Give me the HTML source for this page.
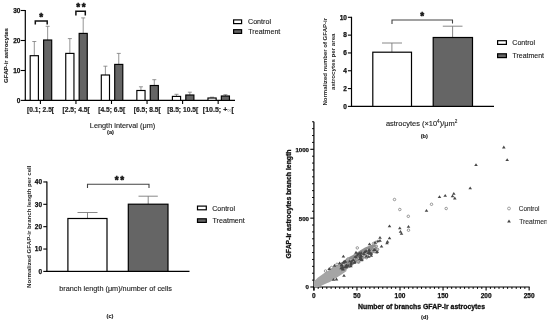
<!DOCTYPE html>
<html><head><meta charset="utf-8"><style>
html,body{margin:0;padding:0;background:#fff;width:550px;height:322px;overflow:hidden}
svg{display:block}
</style></head><body>
<svg id="fig" width="550" height="322" viewBox="0 0 550 322" font-family="Liberation Sans, Arial, sans-serif">
<rect width="550" height="322" fill="#fff"/>
<line x1="25.30" y1="9.90" x2="25.30" y2="101.00" stroke="#000" stroke-width="1.2" stroke-linecap="butt"/>
<line x1="24.70" y1="100.40" x2="235.00" y2="100.40" stroke="#000" stroke-width="1.2" stroke-linecap="butt"/>
<line x1="20.80" y1="10.50" x2="25.30" y2="10.50" stroke="#000" stroke-width="1.1" stroke-linecap="butt"/>
<text x="20.40" y="12.85" font-size="6.5" text-anchor="end" fill="#111" stroke="#111" stroke-width="0.25" font-weight="bold" >30</text>
<line x1="20.80" y1="40.50" x2="25.30" y2="40.50" stroke="#000" stroke-width="1.1" stroke-linecap="butt"/>
<text x="20.40" y="42.85" font-size="6.5" text-anchor="end" fill="#111" stroke="#111" stroke-width="0.25" font-weight="bold" >20</text>
<line x1="20.80" y1="70.50" x2="25.30" y2="70.50" stroke="#000" stroke-width="1.1" stroke-linecap="butt"/>
<text x="20.40" y="72.85" font-size="6.5" text-anchor="end" fill="#111" stroke="#111" stroke-width="0.25" font-weight="bold" >10</text>
<line x1="20.80" y1="100.40" x2="25.30" y2="100.40" stroke="#000" stroke-width="1.1" stroke-linecap="butt"/>
<text x="20.40" y="102.75" font-size="6.5" text-anchor="end" fill="#111" stroke="#111" stroke-width="0.25" font-weight="bold" >0</text>
<line x1="40.40" y1="100.40" x2="40.40" y2="104.00" stroke="#000" stroke-width="1.1" stroke-linecap="butt"/>
<line x1="34.30" y1="55.70" x2="34.30" y2="41.50" stroke="#7a7a7a" stroke-width="0.8" stroke-linecap="butt"/>
<line x1="32.30" y1="41.50" x2="36.30" y2="41.50" stroke="#7a7a7a" stroke-width="0.8" stroke-linecap="butt"/>
<line x1="47.65" y1="40.00" x2="47.65" y2="26.30" stroke="#7a7a7a" stroke-width="0.8" stroke-linecap="butt"/>
<line x1="45.65" y1="26.30" x2="49.65" y2="26.30" stroke="#7a7a7a" stroke-width="0.8" stroke-linecap="butt"/>
<rect x="30.20" y="55.70" width="8.20" height="44.70" fill="#fff" stroke="#000" stroke-width="1.15"/>
<rect x="43.60" y="40.00" width="8.10" height="60.40" fill="#656565" stroke="#000" stroke-width="1.15"/>
<line x1="75.95" y1="100.40" x2="75.95" y2="104.00" stroke="#000" stroke-width="1.1" stroke-linecap="butt"/>
<line x1="69.85" y1="53.40" x2="69.85" y2="38.60" stroke="#7a7a7a" stroke-width="0.8" stroke-linecap="butt"/>
<line x1="67.85" y1="38.60" x2="71.85" y2="38.60" stroke="#7a7a7a" stroke-width="0.8" stroke-linecap="butt"/>
<line x1="83.20" y1="33.40" x2="83.20" y2="17.90" stroke="#7a7a7a" stroke-width="0.8" stroke-linecap="butt"/>
<line x1="81.20" y1="17.90" x2="85.20" y2="17.90" stroke="#7a7a7a" stroke-width="0.8" stroke-linecap="butt"/>
<rect x="65.75" y="53.40" width="8.20" height="47.00" fill="#fff" stroke="#000" stroke-width="1.15"/>
<rect x="79.15" y="33.40" width="8.10" height="67.00" fill="#656565" stroke="#000" stroke-width="1.15"/>
<line x1="111.50" y1="100.40" x2="111.50" y2="104.00" stroke="#000" stroke-width="1.1" stroke-linecap="butt"/>
<line x1="105.40" y1="75.00" x2="105.40" y2="66.20" stroke="#7a7a7a" stroke-width="0.8" stroke-linecap="butt"/>
<line x1="103.40" y1="66.20" x2="107.40" y2="66.20" stroke="#7a7a7a" stroke-width="0.8" stroke-linecap="butt"/>
<line x1="118.75" y1="64.40" x2="118.75" y2="53.40" stroke="#7a7a7a" stroke-width="0.8" stroke-linecap="butt"/>
<line x1="116.75" y1="53.40" x2="120.75" y2="53.40" stroke="#7a7a7a" stroke-width="0.8" stroke-linecap="butt"/>
<rect x="101.30" y="75.00" width="8.20" height="25.40" fill="#fff" stroke="#000" stroke-width="1.15"/>
<rect x="114.70" y="64.40" width="8.10" height="36.00" fill="#656565" stroke="#000" stroke-width="1.15"/>
<line x1="147.05" y1="100.40" x2="147.05" y2="104.00" stroke="#000" stroke-width="1.1" stroke-linecap="butt"/>
<line x1="140.95" y1="90.50" x2="140.95" y2="86.80" stroke="#7a7a7a" stroke-width="0.8" stroke-linecap="butt"/>
<line x1="138.95" y1="86.80" x2="142.95" y2="86.80" stroke="#7a7a7a" stroke-width="0.8" stroke-linecap="butt"/>
<line x1="154.30" y1="85.50" x2="154.30" y2="79.70" stroke="#7a7a7a" stroke-width="0.8" stroke-linecap="butt"/>
<line x1="152.30" y1="79.70" x2="156.30" y2="79.70" stroke="#7a7a7a" stroke-width="0.8" stroke-linecap="butt"/>
<rect x="136.85" y="90.50" width="8.20" height="9.90" fill="#fff" stroke="#000" stroke-width="1.15"/>
<rect x="150.25" y="85.50" width="8.10" height="14.90" fill="#656565" stroke="#000" stroke-width="1.15"/>
<line x1="182.60" y1="100.40" x2="182.60" y2="104.00" stroke="#000" stroke-width="1.1" stroke-linecap="butt"/>
<line x1="176.50" y1="96.40" x2="176.50" y2="94.30" stroke="#7a7a7a" stroke-width="0.8" stroke-linecap="butt"/>
<line x1="174.50" y1="94.30" x2="178.50" y2="94.30" stroke="#7a7a7a" stroke-width="0.8" stroke-linecap="butt"/>
<line x1="189.85" y1="95.00" x2="189.85" y2="92.20" stroke="#7a7a7a" stroke-width="0.8" stroke-linecap="butt"/>
<line x1="187.85" y1="92.20" x2="191.85" y2="92.20" stroke="#7a7a7a" stroke-width="0.8" stroke-linecap="butt"/>
<rect x="172.40" y="96.40" width="8.20" height="4.00" fill="#fff" stroke="#000" stroke-width="1.15"/>
<rect x="185.80" y="95.00" width="8.10" height="5.40" fill="#656565" stroke="#000" stroke-width="1.15"/>
<line x1="218.15" y1="100.40" x2="218.15" y2="104.00" stroke="#000" stroke-width="1.1" stroke-linecap="butt"/>
<line x1="210.05" y1="97.20" x2="214.05" y2="97.20" stroke="#7a7a7a" stroke-width="0.8" stroke-linecap="butt"/>
<line x1="225.40" y1="96.00" x2="225.40" y2="94.70" stroke="#7a7a7a" stroke-width="0.8" stroke-linecap="butt"/>
<line x1="223.40" y1="94.70" x2="227.40" y2="94.70" stroke="#7a7a7a" stroke-width="0.8" stroke-linecap="butt"/>
<rect x="207.95" y="98.00" width="8.20" height="2.40" fill="#fff" stroke="#000" stroke-width="1.15"/>
<rect x="221.35" y="96.00" width="8.10" height="4.40" fill="#656565" stroke="#000" stroke-width="1.15"/>
<text x="40.60" y="111.60" font-size="6.6" text-anchor="middle" fill="#222" stroke="#222" stroke-width="0.2" font-weight="bold" textLength="27" lengthAdjust="spacingAndGlyphs" >[0.1; 2.5[</text>
<text x="76.15" y="111.60" font-size="6.6" text-anchor="middle" fill="#222" stroke="#222" stroke-width="0.2" font-weight="bold" textLength="27.4" lengthAdjust="spacingAndGlyphs" >[2.5; 4.5[</text>
<text x="111.70" y="111.60" font-size="6.6" text-anchor="middle" fill="#222" stroke="#222" stroke-width="0.2" font-weight="bold" textLength="27" lengthAdjust="spacingAndGlyphs" >[4.5; 6.5[</text>
<text x="147.25" y="111.60" font-size="6.6" text-anchor="middle" fill="#222" stroke="#222" stroke-width="0.2" font-weight="bold" textLength="27" lengthAdjust="spacingAndGlyphs" >[6.5; 8.5[</text>
<text x="182.80" y="111.60" font-size="6.6" text-anchor="middle" fill="#222" stroke="#222" stroke-width="0.2" font-weight="bold" textLength="31" lengthAdjust="spacingAndGlyphs" >[8.5; 10.5[</text>
<text x="218.35" y="111.60" font-size="6.6" text-anchor="middle" fill="#222" stroke="#222" stroke-width="0.2" font-weight="bold" textLength="31" lengthAdjust="spacingAndGlyphs" >[10.5; +<tspan font-weight="normal" fill="#8a8a8a" stroke="none" font-size="5.6">∞</tspan>[</text>
<path d="M35.3 24.6 V21 H47.2 V24.6" fill="none" stroke="#111" stroke-width="1.5"/>
<path d="M75.9 15.6 V11.2 H85.3 V15.6" fill="none" stroke="#111" stroke-width="1.5"/>
<text x="41.30" y="20.75" font-size="10" text-anchor="middle" fill="#111" stroke="#111" stroke-width="0.5" font-weight="bold" >*</text>
<text x="78.20" y="10.75" font-size="10" text-anchor="middle" fill="#111" stroke="#111" stroke-width="0.5" font-weight="bold" >*</text>
<text x="83.70" y="10.75" font-size="10" text-anchor="middle" fill="#111" stroke="#111" stroke-width="0.5" font-weight="bold" >*</text>
<text x="89.80" y="127.80" font-size="7.3" text-anchor="start" fill="#222" stroke="#222" stroke-width="0.12" textLength="65.4" lengthAdjust="spacingAndGlyphs" >Length interval (μm)</text>
<text x="110.50" y="134.30" font-size="5.6" text-anchor="middle" fill="#222" stroke="#222" stroke-width="0.15" font-weight="bold" >(a)</text>
<text x="8.20" y="83.00" font-size="6.2" text-anchor="start" fill="#1a1a1a" stroke="#1a1a1a" stroke-width="0.1" font-weight="bold" textLength="55" lengthAdjust="spacingAndGlyphs" transform="rotate(-90 8.20 83.00)" >GFAP-ir astrocytes</text>
<rect x="233.60" y="19.90" width="8.00" height="3.70" fill="#fff" stroke="#000" stroke-width="1.2"/>
<rect x="233.60" y="29.70" width="8.00" height="3.70" fill="#656565" stroke="#000" stroke-width="1.2"/>
<text x="248.00" y="24.30" font-size="7" text-anchor="start" fill="#222" stroke="#222" stroke-width="0.12" textLength="23" lengthAdjust="spacingAndGlyphs" >Control</text>
<text x="248.30" y="34.00" font-size="7" text-anchor="start" fill="#222" stroke="#222" stroke-width="0.12" textLength="32" lengthAdjust="spacingAndGlyphs" >Treatment</text>
<line x1="351.50" y1="16.80" x2="351.50" y2="107.00" stroke="#000" stroke-width="1.2" stroke-linecap="butt"/>
<line x1="350.90" y1="106.40" x2="494.00" y2="106.40" stroke="#000" stroke-width="1.2" stroke-linecap="butt"/>
<line x1="347.90" y1="106.40" x2="351.50" y2="106.40" stroke="#000" stroke-width="1.1" stroke-linecap="butt"/>
<text x="346.90" y="108.75" font-size="6.5" text-anchor="end" fill="#111" stroke="#111" stroke-width="0.25" font-weight="bold" >0</text>
<line x1="347.90" y1="88.58" x2="351.50" y2="88.58" stroke="#000" stroke-width="1.1" stroke-linecap="butt"/>
<text x="346.90" y="90.93" font-size="6.5" text-anchor="end" fill="#111" stroke="#111" stroke-width="0.25" font-weight="bold" >2</text>
<line x1="347.90" y1="70.76" x2="351.50" y2="70.76" stroke="#000" stroke-width="1.1" stroke-linecap="butt"/>
<text x="346.90" y="73.11" font-size="6.5" text-anchor="end" fill="#111" stroke="#111" stroke-width="0.25" font-weight="bold" >4</text>
<line x1="347.90" y1="52.94" x2="351.50" y2="52.94" stroke="#000" stroke-width="1.1" stroke-linecap="butt"/>
<text x="346.90" y="55.29" font-size="6.5" text-anchor="end" fill="#111" stroke="#111" stroke-width="0.25" font-weight="bold" >6</text>
<line x1="347.90" y1="35.12" x2="351.50" y2="35.12" stroke="#000" stroke-width="1.1" stroke-linecap="butt"/>
<text x="346.90" y="37.47" font-size="6.5" text-anchor="end" fill="#111" stroke="#111" stroke-width="0.25" font-weight="bold" >8</text>
<line x1="347.90" y1="17.30" x2="351.50" y2="17.30" stroke="#000" stroke-width="1.1" stroke-linecap="butt"/>
<text x="346.90" y="19.65" font-size="6.5" text-anchor="end" fill="#111" stroke="#111" stroke-width="0.25" font-weight="bold" >10</text>
<line x1="391.90" y1="52.20" x2="391.90" y2="43.00" stroke="#7a7a7a" stroke-width="0.9" stroke-linecap="butt"/>
<line x1="382.00" y1="43.00" x2="402.00" y2="43.00" stroke="#7a7a7a" stroke-width="0.9" stroke-linecap="butt"/>
<line x1="452.60" y1="37.50" x2="452.60" y2="26.20" stroke="#7a7a7a" stroke-width="0.9" stroke-linecap="butt"/>
<line x1="442.80" y1="26.20" x2="462.50" y2="26.20" stroke="#7a7a7a" stroke-width="0.9" stroke-linecap="butt"/>
<rect x="372.80" y="52.20" width="38.70" height="54.20" fill="#fff" stroke="#000" stroke-width="1.2"/>
<rect x="433.20" y="37.50" width="39.30" height="68.90" fill="#656565" stroke="#000" stroke-width="1.2"/>
<path d="M392 24 V20 H452.5 V23.6" fill="none" stroke="#444" stroke-width="1.1"/>
<text x="422.20" y="19.80" font-size="10" text-anchor="middle" fill="#111" stroke="#111" stroke-width="0.5" font-weight="bold" >*</text>
<text x="327.30" y="61.75" font-size="6.1" text-anchor="middle" fill="#222" font-weight="bold" textLength="87.5" lengthAdjust="spacingAndGlyphs" transform="rotate(-90 327.30 61.75)" >Normalized number of GFAP-ir</text>
<text x="335.30" y="61.75" font-size="6.1" text-anchor="middle" fill="#222" font-weight="bold" textLength="56.5" lengthAdjust="spacingAndGlyphs" transform="rotate(-90 335.30 61.75)" >astrocytes per area</text>
<text x="385.9" y="125.6" font-size="7.4" fill="#222" stroke="#222" stroke-width="0.12" textLength="71.5" lengthAdjust="spacingAndGlyphs">astrocytes (×10<tspan font-size="4.6" dy="-2.8">4</tspan><tspan dy="2.8">)/μm</tspan><tspan font-size="4.6" dy="-2.8">2</tspan></text>
<text x="424.30" y="138.00" font-size="5.6" text-anchor="middle" fill="#222" stroke="#222" stroke-width="0.15" font-weight="bold" >(b)</text>
<rect x="497.60" y="40.70" width="8.80" height="3.70" fill="#fff" stroke="#000" stroke-width="1.2"/>
<rect x="497.60" y="53.80" width="8.80" height="3.80" fill="#656565" stroke="#000" stroke-width="1.2"/>
<text x="512.30" y="45.30" font-size="7" text-anchor="start" fill="#222" stroke="#222" stroke-width="0.12" textLength="22.8" lengthAdjust="spacingAndGlyphs" >Control</text>
<text x="512.50" y="58.40" font-size="7" text-anchor="start" fill="#222" stroke="#222" stroke-width="0.12" textLength="31.5" lengthAdjust="spacingAndGlyphs" >Treatment</text>
<line x1="46.90" y1="181.60" x2="46.90" y2="272.00" stroke="#000" stroke-width="1.2" stroke-linecap="butt"/>
<line x1="46.30" y1="271.40" x2="189.50" y2="271.40" stroke="#000" stroke-width="1.2" stroke-linecap="butt"/>
<line x1="43.30" y1="271.40" x2="46.90" y2="271.40" stroke="#000" stroke-width="1.1" stroke-linecap="butt"/>
<text x="42.10" y="273.75" font-size="6.5" text-anchor="end" fill="#111" stroke="#111" stroke-width="0.25" font-weight="bold" >0</text>
<line x1="43.30" y1="249.04" x2="46.90" y2="249.04" stroke="#000" stroke-width="1.1" stroke-linecap="butt"/>
<text x="42.10" y="251.39" font-size="6.5" text-anchor="end" fill="#111" stroke="#111" stroke-width="0.25" font-weight="bold" >10</text>
<line x1="43.30" y1="226.68" x2="46.90" y2="226.68" stroke="#000" stroke-width="1.1" stroke-linecap="butt"/>
<text x="42.10" y="229.03" font-size="6.5" text-anchor="end" fill="#111" stroke="#111" stroke-width="0.25" font-weight="bold" >20</text>
<line x1="43.30" y1="204.32" x2="46.90" y2="204.32" stroke="#000" stroke-width="1.1" stroke-linecap="butt"/>
<text x="42.10" y="206.67" font-size="6.5" text-anchor="end" fill="#111" stroke="#111" stroke-width="0.25" font-weight="bold" >30</text>
<line x1="43.30" y1="181.96" x2="46.90" y2="181.96" stroke="#000" stroke-width="1.1" stroke-linecap="butt"/>
<text x="42.10" y="184.31" font-size="6.5" text-anchor="end" fill="#111" stroke="#111" stroke-width="0.25" font-weight="bold" >40</text>
<line x1="87.50" y1="218.50" x2="87.50" y2="212.50" stroke="#7a7a7a" stroke-width="0.9" stroke-linecap="butt"/>
<line x1="77.50" y1="212.50" x2="97.50" y2="212.50" stroke="#7a7a7a" stroke-width="0.9" stroke-linecap="butt"/>
<line x1="148.20" y1="204.20" x2="148.20" y2="196.20" stroke="#7a7a7a" stroke-width="0.9" stroke-linecap="butt"/>
<line x1="138.50" y1="196.20" x2="157.80" y2="196.20" stroke="#7a7a7a" stroke-width="0.9" stroke-linecap="butt"/>
<rect x="67.90" y="218.50" width="39.10" height="52.90" fill="#fff" stroke="#000" stroke-width="1.2"/>
<rect x="128.30" y="204.20" width="39.70" height="67.20" fill="#656565" stroke="#000" stroke-width="1.2"/>
<path d="M87.5 188 V184.2 H149 V188" fill="none" stroke="#444" stroke-width="1.1"/>
<text x="116.80" y="184.00" font-size="10" text-anchor="middle" fill="#111" stroke="#111" stroke-width="0.5" font-weight="bold" >*</text>
<text x="122.30" y="184.00" font-size="10" text-anchor="middle" fill="#111" stroke="#111" stroke-width="0.5" font-weight="bold" >*</text>
<text x="30.90" y="226.75" font-size="6.1" text-anchor="middle" fill="#222" font-weight="bold" textLength="122.5" lengthAdjust="spacingAndGlyphs" transform="rotate(-90 30.90 226.75)" >Normalized GFAP-ir branch length per cell</text>
<text x="59.30" y="291.10" font-size="7.3" text-anchor="start" fill="#222" stroke="#222" stroke-width="0.12" textLength="112.7" lengthAdjust="spacingAndGlyphs" >branch length (μm)/number of cells</text>
<text x="110.00" y="318.00" font-size="5.6" text-anchor="middle" fill="#222" stroke="#222" stroke-width="0.15" font-weight="bold" >(c)</text>
<rect x="197.50" y="206.10" width="8.80" height="3.70" fill="#fff" stroke="#000" stroke-width="1.2"/>
<rect x="197.50" y="218.80" width="8.80" height="3.60" fill="#656565" stroke="#000" stroke-width="1.2"/>
<text x="212.20" y="210.90" font-size="7" text-anchor="start" fill="#222" stroke="#222" stroke-width="0.12" textLength="22.8" lengthAdjust="spacingAndGlyphs" >Control</text>
<text x="212.50" y="223.40" font-size="7" text-anchor="start" fill="#222" stroke="#222" stroke-width="0.12" textLength="32.3" lengthAdjust="spacingAndGlyphs" >Treatment</text>
<line x1="313.90" y1="121.76" x2="313.90" y2="290.50" stroke="#000" stroke-width="1.2" stroke-linecap="butt"/>
<line x1="313.30" y1="287.00" x2="529.65" y2="287.00" stroke="#000" stroke-width="1.2" stroke-linecap="butt"/>
<line x1="310.30" y1="287.00" x2="313.90" y2="287.00" stroke="#000" stroke-width="1.1" stroke-linecap="butt"/>
<line x1="312.10" y1="280.12" x2="313.90" y2="280.12" stroke="#000" stroke-width="1.0" stroke-linecap="butt"/>
<line x1="312.10" y1="273.23" x2="313.90" y2="273.23" stroke="#000" stroke-width="1.0" stroke-linecap="butt"/>
<line x1="312.10" y1="266.35" x2="313.90" y2="266.35" stroke="#000" stroke-width="1.0" stroke-linecap="butt"/>
<line x1="312.10" y1="259.46" x2="313.90" y2="259.46" stroke="#000" stroke-width="1.0" stroke-linecap="butt"/>
<line x1="312.10" y1="252.57" x2="313.90" y2="252.57" stroke="#000" stroke-width="1.0" stroke-linecap="butt"/>
<line x1="312.10" y1="245.69" x2="313.90" y2="245.69" stroke="#000" stroke-width="1.0" stroke-linecap="butt"/>
<line x1="312.10" y1="238.81" x2="313.90" y2="238.81" stroke="#000" stroke-width="1.0" stroke-linecap="butt"/>
<line x1="312.10" y1="231.92" x2="313.90" y2="231.92" stroke="#000" stroke-width="1.0" stroke-linecap="butt"/>
<line x1="312.10" y1="225.03" x2="313.90" y2="225.03" stroke="#000" stroke-width="1.0" stroke-linecap="butt"/>
<line x1="310.30" y1="218.15" x2="313.90" y2="218.15" stroke="#000" stroke-width="1.1" stroke-linecap="butt"/>
<line x1="312.10" y1="211.26" x2="313.90" y2="211.26" stroke="#000" stroke-width="1.0" stroke-linecap="butt"/>
<line x1="312.10" y1="204.38" x2="313.90" y2="204.38" stroke="#000" stroke-width="1.0" stroke-linecap="butt"/>
<line x1="312.10" y1="197.50" x2="313.90" y2="197.50" stroke="#000" stroke-width="1.0" stroke-linecap="butt"/>
<line x1="312.10" y1="190.61" x2="313.90" y2="190.61" stroke="#000" stroke-width="1.0" stroke-linecap="butt"/>
<line x1="312.10" y1="183.73" x2="313.90" y2="183.73" stroke="#000" stroke-width="1.0" stroke-linecap="butt"/>
<line x1="312.10" y1="176.84" x2="313.90" y2="176.84" stroke="#000" stroke-width="1.0" stroke-linecap="butt"/>
<line x1="312.10" y1="169.96" x2="313.90" y2="169.96" stroke="#000" stroke-width="1.0" stroke-linecap="butt"/>
<line x1="312.10" y1="163.07" x2="313.90" y2="163.07" stroke="#000" stroke-width="1.0" stroke-linecap="butt"/>
<line x1="312.10" y1="156.19" x2="313.90" y2="156.19" stroke="#000" stroke-width="1.0" stroke-linecap="butt"/>
<line x1="310.30" y1="149.30" x2="313.90" y2="149.30" stroke="#000" stroke-width="1.1" stroke-linecap="butt"/>
<line x1="312.10" y1="142.42" x2="313.90" y2="142.42" stroke="#000" stroke-width="1.0" stroke-linecap="butt"/>
<line x1="312.10" y1="135.53" x2="313.90" y2="135.53" stroke="#000" stroke-width="1.0" stroke-linecap="butt"/>
<line x1="312.10" y1="128.65" x2="313.90" y2="128.65" stroke="#000" stroke-width="1.0" stroke-linecap="butt"/>
<line x1="312.10" y1="121.76" x2="313.90" y2="121.76" stroke="#000" stroke-width="1.0" stroke-linecap="butt"/>
<line x1="313.90" y1="287.00" x2="313.90" y2="290.50" stroke="#000" stroke-width="1.1" stroke-linecap="butt"/>
<line x1="318.20" y1="287.00" x2="318.20" y2="288.90" stroke="#000" stroke-width="1.0" stroke-linecap="butt"/>
<line x1="322.51" y1="287.00" x2="322.51" y2="288.90" stroke="#000" stroke-width="1.0" stroke-linecap="butt"/>
<line x1="326.81" y1="287.00" x2="326.81" y2="288.90" stroke="#000" stroke-width="1.0" stroke-linecap="butt"/>
<line x1="331.12" y1="287.00" x2="331.12" y2="288.90" stroke="#000" stroke-width="1.0" stroke-linecap="butt"/>
<line x1="335.42" y1="287.00" x2="335.42" y2="288.90" stroke="#000" stroke-width="1.0" stroke-linecap="butt"/>
<line x1="339.73" y1="287.00" x2="339.73" y2="288.90" stroke="#000" stroke-width="1.0" stroke-linecap="butt"/>
<line x1="344.03" y1="287.00" x2="344.03" y2="288.90" stroke="#000" stroke-width="1.0" stroke-linecap="butt"/>
<line x1="348.34" y1="287.00" x2="348.34" y2="288.90" stroke="#000" stroke-width="1.0" stroke-linecap="butt"/>
<line x1="352.64" y1="287.00" x2="352.64" y2="288.90" stroke="#000" stroke-width="1.0" stroke-linecap="butt"/>
<line x1="356.95" y1="287.00" x2="356.95" y2="290.50" stroke="#000" stroke-width="1.1" stroke-linecap="butt"/>
<line x1="361.25" y1="287.00" x2="361.25" y2="288.90" stroke="#000" stroke-width="1.0" stroke-linecap="butt"/>
<line x1="365.56" y1="287.00" x2="365.56" y2="288.90" stroke="#000" stroke-width="1.0" stroke-linecap="butt"/>
<line x1="369.86" y1="287.00" x2="369.86" y2="288.90" stroke="#000" stroke-width="1.0" stroke-linecap="butt"/>
<line x1="374.17" y1="287.00" x2="374.17" y2="288.90" stroke="#000" stroke-width="1.0" stroke-linecap="butt"/>
<line x1="378.47" y1="287.00" x2="378.47" y2="288.90" stroke="#000" stroke-width="1.0" stroke-linecap="butt"/>
<line x1="382.78" y1="287.00" x2="382.78" y2="288.90" stroke="#000" stroke-width="1.0" stroke-linecap="butt"/>
<line x1="387.08" y1="287.00" x2="387.08" y2="288.90" stroke="#000" stroke-width="1.0" stroke-linecap="butt"/>
<line x1="391.39" y1="287.00" x2="391.39" y2="288.90" stroke="#000" stroke-width="1.0" stroke-linecap="butt"/>
<line x1="395.69" y1="287.00" x2="395.69" y2="288.90" stroke="#000" stroke-width="1.0" stroke-linecap="butt"/>
<line x1="400.00" y1="287.00" x2="400.00" y2="290.50" stroke="#000" stroke-width="1.1" stroke-linecap="butt"/>
<line x1="404.30" y1="287.00" x2="404.30" y2="288.90" stroke="#000" stroke-width="1.0" stroke-linecap="butt"/>
<line x1="408.61" y1="287.00" x2="408.61" y2="288.90" stroke="#000" stroke-width="1.0" stroke-linecap="butt"/>
<line x1="412.91" y1="287.00" x2="412.91" y2="288.90" stroke="#000" stroke-width="1.0" stroke-linecap="butt"/>
<line x1="417.22" y1="287.00" x2="417.22" y2="288.90" stroke="#000" stroke-width="1.0" stroke-linecap="butt"/>
<line x1="421.52" y1="287.00" x2="421.52" y2="288.90" stroke="#000" stroke-width="1.0" stroke-linecap="butt"/>
<line x1="425.83" y1="287.00" x2="425.83" y2="288.90" stroke="#000" stroke-width="1.0" stroke-linecap="butt"/>
<line x1="430.13" y1="287.00" x2="430.13" y2="288.90" stroke="#000" stroke-width="1.0" stroke-linecap="butt"/>
<line x1="434.44" y1="287.00" x2="434.44" y2="288.90" stroke="#000" stroke-width="1.0" stroke-linecap="butt"/>
<line x1="438.75" y1="287.00" x2="438.75" y2="288.90" stroke="#000" stroke-width="1.0" stroke-linecap="butt"/>
<line x1="443.05" y1="287.00" x2="443.05" y2="290.50" stroke="#000" stroke-width="1.1" stroke-linecap="butt"/>
<line x1="447.35" y1="287.00" x2="447.35" y2="288.90" stroke="#000" stroke-width="1.0" stroke-linecap="butt"/>
<line x1="451.66" y1="287.00" x2="451.66" y2="288.90" stroke="#000" stroke-width="1.0" stroke-linecap="butt"/>
<line x1="455.96" y1="287.00" x2="455.96" y2="288.90" stroke="#000" stroke-width="1.0" stroke-linecap="butt"/>
<line x1="460.27" y1="287.00" x2="460.27" y2="288.90" stroke="#000" stroke-width="1.0" stroke-linecap="butt"/>
<line x1="464.57" y1="287.00" x2="464.57" y2="288.90" stroke="#000" stroke-width="1.0" stroke-linecap="butt"/>
<line x1="468.88" y1="287.00" x2="468.88" y2="288.90" stroke="#000" stroke-width="1.0" stroke-linecap="butt"/>
<line x1="473.18" y1="287.00" x2="473.18" y2="288.90" stroke="#000" stroke-width="1.0" stroke-linecap="butt"/>
<line x1="477.49" y1="287.00" x2="477.49" y2="288.90" stroke="#000" stroke-width="1.0" stroke-linecap="butt"/>
<line x1="481.79" y1="287.00" x2="481.79" y2="288.90" stroke="#000" stroke-width="1.0" stroke-linecap="butt"/>
<line x1="486.10" y1="287.00" x2="486.10" y2="290.50" stroke="#000" stroke-width="1.1" stroke-linecap="butt"/>
<line x1="490.40" y1="287.00" x2="490.40" y2="288.90" stroke="#000" stroke-width="1.0" stroke-linecap="butt"/>
<line x1="494.71" y1="287.00" x2="494.71" y2="288.90" stroke="#000" stroke-width="1.0" stroke-linecap="butt"/>
<line x1="499.01" y1="287.00" x2="499.01" y2="288.90" stroke="#000" stroke-width="1.0" stroke-linecap="butt"/>
<line x1="503.32" y1="287.00" x2="503.32" y2="288.90" stroke="#000" stroke-width="1.0" stroke-linecap="butt"/>
<line x1="507.62" y1="287.00" x2="507.62" y2="288.90" stroke="#000" stroke-width="1.0" stroke-linecap="butt"/>
<line x1="511.93" y1="287.00" x2="511.93" y2="288.90" stroke="#000" stroke-width="1.0" stroke-linecap="butt"/>
<line x1="516.24" y1="287.00" x2="516.24" y2="288.90" stroke="#000" stroke-width="1.0" stroke-linecap="butt"/>
<line x1="520.54" y1="287.00" x2="520.54" y2="288.90" stroke="#000" stroke-width="1.0" stroke-linecap="butt"/>
<line x1="524.85" y1="287.00" x2="524.85" y2="288.90" stroke="#000" stroke-width="1.0" stroke-linecap="butt"/>
<line x1="529.15" y1="287.00" x2="529.15" y2="290.50" stroke="#000" stroke-width="1.1" stroke-linecap="butt"/>
<text x="309.00" y="151.50" font-size="6.1" text-anchor="end" fill="#111" stroke="#111" stroke-width="0.25" font-weight="bold" >1000</text>
<text x="309.00" y="220.50" font-size="6.1" text-anchor="end" fill="#111" stroke="#111" stroke-width="0.25" font-weight="bold" >500</text>
<text x="309.00" y="289.20" font-size="6.1" text-anchor="end" fill="#111" stroke="#111" stroke-width="0.25" font-weight="bold" >0</text>
<text x="313.90" y="298.00" font-size="6.5" text-anchor="middle" fill="#111" stroke="#111" stroke-width="0.25" font-weight="bold" >0</text>
<text x="356.95" y="298.00" font-size="6.5" text-anchor="middle" fill="#111" stroke="#111" stroke-width="0.25" font-weight="bold" >50</text>
<text x="400.00" y="298.00" font-size="6.5" text-anchor="middle" fill="#111" stroke="#111" stroke-width="0.25" font-weight="bold" >100</text>
<text x="443.05" y="298.00" font-size="6.5" text-anchor="middle" fill="#111" stroke="#111" stroke-width="0.25" font-weight="bold" >150</text>
<text x="486.10" y="298.00" font-size="6.5" text-anchor="middle" fill="#111" stroke="#111" stroke-width="0.25" font-weight="bold" >200</text>
<text x="529.15" y="298.00" font-size="6.5" text-anchor="middle" fill="#111" stroke="#111" stroke-width="0.25" font-weight="bold" >250</text>
<text x="291.40" y="204.00" font-size="6.9" text-anchor="middle" fill="#111" stroke="#111" stroke-width="0.3" font-weight="bold" textLength="109" lengthAdjust="spacingAndGlyphs" transform="rotate(-90 291.40 204.00)" >GFAP-ir astrocytes branch length</text>
<text x="421.50" y="308.60" font-size="6.9" text-anchor="middle" fill="#111" stroke="#111" stroke-width="0.3" font-weight="bold" textLength="127" lengthAdjust="spacingAndGlyphs" >Number of branchs GFAP-ir astrocytes</text>
<text x="424.70" y="318.60" font-size="5.6" text-anchor="middle" fill="#222" stroke="#222" stroke-width="0.15" font-weight="bold" >(d)</text>
<path d="M314 281.3 L316.2 279.3 L318 277.6 L321.2 275.3 L325 272.5 L328 270.8 L331 268.6 L335.2 265.8 L339.5 263.4 L344 261.2 L348 263.5 L346.3 271.2 L340.4 275.2 L333 279.9 L329.9 282 L326.1 283.4 L322.4 285.2 L318 287.3 L314 287.3 Z" fill="#a5a5a5"/>
<path d="M341 263.5 L345 260 L350 256.5 L355 254 L360 250.5 L365 247.5 L370 245.5 L375 243.5 L377 247.5 L376 252 L370 254.5 L365 256 L360 259 L355 263.5 L350 267 L345 270 L341 271.5 Z" fill="#909090"/>
<circle cx="394.5" cy="199.5" r="1.25" fill="#fff" stroke="#858585" stroke-width="0.85"/>
<circle cx="399.8" cy="209.5" r="1.25" fill="#fff" stroke="#858585" stroke-width="0.85"/>
<circle cx="408.3" cy="216.3" r="1.25" fill="#fff" stroke="#858585" stroke-width="0.85"/>
<circle cx="431.5" cy="204.3" r="1.25" fill="#fff" stroke="#858585" stroke-width="0.85"/>
<circle cx="446.2" cy="208.5" r="1.25" fill="#fff" stroke="#858585" stroke-width="0.85"/>
<circle cx="408.5" cy="230.2" r="1.25" fill="#fff" stroke="#858585" stroke-width="0.85"/>
<circle cx="357.3" cy="247.9" r="1.25" fill="#fff" stroke="#858585" stroke-width="0.85"/>
<circle cx="376.2" cy="242.2" r="1.25" fill="#fff" stroke="#858585" stroke-width="0.85"/>
<circle cx="373.5" cy="243.5" r="1.25" fill="#fff" stroke="#858585" stroke-width="0.85"/>
<circle cx="325.5" cy="271.0" r="1.25" fill="#fff" stroke="#858585" stroke-width="0.85"/>
<circle cx="331.5" cy="267.5" r="1.25" fill="#fff" stroke="#858585" stroke-width="0.85"/>
<circle cx="337.0" cy="264.3" r="1.25" fill="#fff" stroke="#858585" stroke-width="0.85"/>
<circle cx="373.3" cy="249.3" r="1.25" fill="#c4c4c4" stroke="#858585" stroke-width="0.85"/>
<circle cx="341.8" cy="264.0" r="1.25" fill="#c4c4c4" stroke="#858585" stroke-width="0.85"/>
<circle cx="376.3" cy="246.3" r="1.25" fill="#c4c4c4" stroke="#858585" stroke-width="0.85"/>
<circle cx="345.0" cy="263.9" r="1.25" fill="#c4c4c4" stroke="#858585" stroke-width="0.85"/>
<circle cx="353.6" cy="259.5" r="1.25" fill="#c4c4c4" stroke="#858585" stroke-width="0.85"/>
<circle cx="345.8" cy="263.4" r="1.25" fill="#c4c4c4" stroke="#858585" stroke-width="0.85"/>
<circle cx="357.8" cy="255.6" r="1.25" fill="#c4c4c4" stroke="#858585" stroke-width="0.85"/>
<circle cx="365.9" cy="254.8" r="1.25" fill="#c4c4c4" stroke="#858585" stroke-width="0.85"/>
<circle cx="353.9" cy="260.6" r="1.25" fill="#c4c4c4" stroke="#858585" stroke-width="0.85"/>
<circle cx="371.6" cy="251.2" r="1.25" fill="#c4c4c4" stroke="#858585" stroke-width="0.85"/>
<circle cx="358.7" cy="262.1" r="1.25" fill="#c4c4c4" stroke="#858585" stroke-width="0.85"/>
<circle cx="365.6" cy="253.5" r="1.25" fill="#c4c4c4" stroke="#858585" stroke-width="0.85"/>
<circle cx="355.1" cy="259.6" r="1.25" fill="#c4c4c4" stroke="#858585" stroke-width="0.85"/>
<circle cx="353.6" cy="258.6" r="1.25" fill="#c4c4c4" stroke="#858585" stroke-width="0.85"/>
<circle cx="371.3" cy="253.4" r="1.25" fill="#c4c4c4" stroke="#858585" stroke-width="0.85"/>
<circle cx="363.0" cy="258.0" r="1.25" fill="#c4c4c4" stroke="#858585" stroke-width="0.85"/>
<circle cx="377.0" cy="252.2" r="1.25" fill="#c4c4c4" stroke="#858585" stroke-width="0.85"/>
<circle cx="377.6" cy="249.4" r="1.25" fill="#c4c4c4" stroke="#858585" stroke-width="0.85"/>
<circle cx="358.6" cy="260.6" r="1.25" fill="#c4c4c4" stroke="#858585" stroke-width="0.85"/>
<circle cx="364.4" cy="255.4" r="1.25" fill="#c4c4c4" stroke="#858585" stroke-width="0.85"/>
<circle cx="343.4" cy="266.8" r="1.25" fill="#c4c4c4" stroke="#858585" stroke-width="0.85"/>
<circle cx="349.5" cy="266.2" r="1.25" fill="#c4c4c4" stroke="#858585" stroke-width="0.85"/>
<circle cx="363.2" cy="255.7" r="1.25" fill="#c4c4c4" stroke="#858585" stroke-width="0.85"/>
<circle cx="364.4" cy="256.2" r="1.25" fill="#c4c4c4" stroke="#858585" stroke-width="0.85"/>
<circle cx="370.8" cy="253.9" r="1.25" fill="#c4c4c4" stroke="#858585" stroke-width="0.85"/>
<circle cx="360.1" cy="259.0" r="1.25" fill="#c4c4c4" stroke="#858585" stroke-width="0.85"/>
<circle cx="375.2" cy="251.8" r="1.25" fill="#c4c4c4" stroke="#858585" stroke-width="0.85"/>
<circle cx="364.9" cy="253.8" r="1.25" fill="#c4c4c4" stroke="#858585" stroke-width="0.85"/>
<circle cx="361.0" cy="255.6" r="1.25" fill="#c4c4c4" stroke="#858585" stroke-width="0.85"/>
<circle cx="354.9" cy="260.0" r="1.25" fill="#c4c4c4" stroke="#858585" stroke-width="0.85"/>
<circle cx="344.2" cy="264.7" r="1.25" fill="#c4c4c4" stroke="#858585" stroke-width="0.85"/>
<circle cx="343.4" cy="264.4" r="1.25" fill="#c4c4c4" stroke="#858585" stroke-width="0.85"/>
<circle cx="367.2" cy="254.3" r="1.25" fill="#c4c4c4" stroke="#858585" stroke-width="0.85"/>
<circle cx="362.3" cy="255.4" r="1.25" fill="#c4c4c4" stroke="#858585" stroke-width="0.85"/>
<circle cx="344.7" cy="263.0" r="1.25" fill="#c4c4c4" stroke="#858585" stroke-width="0.85"/>
<circle cx="355.2" cy="255.2" r="1.25" fill="#c4c4c4" stroke="#858585" stroke-width="0.85"/>
<circle cx="354.4" cy="259.0" r="1.25" fill="#c4c4c4" stroke="#858585" stroke-width="0.85"/>
<circle cx="354.2" cy="258.6" r="1.25" fill="#c4c4c4" stroke="#858585" stroke-width="0.85"/>
<circle cx="367.4" cy="249.8" r="1.25" fill="#c4c4c4" stroke="#858585" stroke-width="0.85"/>
<circle cx="374.2" cy="247.7" r="1.25" fill="#c4c4c4" stroke="#858585" stroke-width="0.85"/>
<circle cx="366.5" cy="257.7" r="1.25" fill="#c4c4c4" stroke="#858585" stroke-width="0.85"/>
<circle cx="350.9" cy="259.9" r="1.25" fill="#c4c4c4" stroke="#858585" stroke-width="0.85"/>
<circle cx="347.2" cy="260.2" r="1.25" fill="#c4c4c4" stroke="#858585" stroke-width="0.85"/>
<circle cx="348.0" cy="259.0" r="1.25" fill="#c4c4c4" stroke="#858585" stroke-width="0.85"/>
<circle cx="349.5" cy="262.3" r="1.25" fill="#c4c4c4" stroke="#858585" stroke-width="0.85"/>
<circle cx="358.0" cy="261.8" r="1.25" fill="#c4c4c4" stroke="#858585" stroke-width="0.85"/>
<circle cx="343.7" cy="264.3" r="1.25" fill="#c4c4c4" stroke="#858585" stroke-width="0.85"/>
<circle cx="361.0" cy="252.4" r="1.25" fill="#c4c4c4" stroke="#858585" stroke-width="0.85"/>
<circle cx="357.1" cy="259.0" r="1.25" fill="#c4c4c4" stroke="#858585" stroke-width="0.85"/>
<circle cx="369.5" cy="253.2" r="1.25" fill="#c4c4c4" stroke="#858585" stroke-width="0.85"/>
<circle cx="358.7" cy="258.6" r="1.25" fill="#c4c4c4" stroke="#858585" stroke-width="0.85"/>
<path d="M474.2 166.1 L476.0 163.2 L477.8 166.1 Z" fill="#474747"/>
<path d="M502.0 148.5 L503.8 145.6 L505.6 148.5 Z" fill="#474747"/>
<path d="M505.4 161.1 L507.2 158.2 L509.0 161.1 Z" fill="#474747"/>
<path d="M437.7 198.1 L439.5 195.2 L441.3 198.1 Z" fill="#474747"/>
<path d="M443.4 196.8 L445.2 193.9 L447.0 196.8 Z" fill="#474747"/>
<path d="M452.0 194.8 L453.8 191.9 L455.6 194.8 Z" fill="#474747"/>
<path d="M450.7 197.3 L452.5 194.4 L454.3 197.3 Z" fill="#474747"/>
<path d="M453.0 199.5 L454.8 196.6 L456.6 199.5 Z" fill="#474747"/>
<path d="M468.4 189.3 L470.2 186.4 L472.0 189.3 Z" fill="#474747"/>
<path d="M424.7 211.8 L426.5 208.9 L428.3 211.8 Z" fill="#474747"/>
<path d="M387.7 227.3 L389.5 224.4 L391.3 227.3 Z" fill="#474747"/>
<path d="M398.0 229.3 L399.8 226.4 L401.6 229.3 Z" fill="#474747"/>
<path d="M398.7 232.8 L400.5 229.9 L402.3 232.8 Z" fill="#474747"/>
<path d="M399.7 234.8 L401.5 231.9 L403.3 234.8 Z" fill="#474747"/>
<path d="M406.7 227.8 L408.5 224.9 L410.3 227.8 Z" fill="#474747"/>
<path d="M387.7 239.3 L389.5 236.4 L391.3 239.3 Z" fill="#474747"/>
<path d="M385.7 242.8 L387.5 239.9 L389.3 242.8 Z" fill="#474747"/>
<path d="M385.2 244.3 L387.0 241.4 L388.8 244.3 Z" fill="#474747"/>
<path d="M378.2 238.8 L380.0 235.9 L381.8 238.8 Z" fill="#474747"/>
<path d="M378.2 241.8 L380.0 238.9 L381.8 241.8 Z" fill="#474747"/>
<path d="M379.7 247.6 L381.5 244.7 L383.3 247.6 Z" fill="#474747"/>
<path d="M367.7 245.3 L369.5 242.4 L371.3 245.3 Z" fill="#474747"/>
<path d="M373.2 243.8 L375.0 240.9 L376.8 243.8 Z" fill="#474747"/>
<path d="M376.2 242.3 L378.0 239.4 L379.8 242.3 Z" fill="#474747"/>
<path d="M341.6 257.6 L343.4 254.7 L345.2 257.6 Z" fill="#474747"/>
<path d="M354.2 253.7 L356.0 250.8 L357.8 253.7 Z" fill="#474747"/>
<path d="M327.4 269.9 L329.2 267.0 L331.0 269.9 Z" fill="#474747"/>
<path d="M332.7 266.7 L334.5 263.8 L336.3 266.7 Z" fill="#474747"/>
<path d="M337.8 264.3 L339.6 261.4 L341.4 264.3 Z" fill="#474747"/>
<path d="M342.2 276.8 L344.0 273.9 L345.8 276.8 Z" fill="#474747"/>
<path d="M331.7 280.8 L333.5 277.9 L335.3 280.8 Z" fill="#474747"/>
<path d="M334.7 280.5 L336.5 277.6 L338.3 280.5 Z" fill="#474747"/>
<path d="M359.3 259.7 L361.1 256.8 L362.9 259.7 Z" fill="#474747"/>
<path d="M345.1 266.8 L346.9 263.9 L348.7 266.8 Z" fill="#474747"/>
<path d="M339.3 269.2 L341.1 266.3 L342.9 269.2 Z" fill="#474747"/>
<path d="M372.3 250.9 L374.1 248.0 L375.9 250.9 Z" fill="#474747"/>
<path d="M364.3 252.1 L366.1 249.2 L367.9 252.1 Z" fill="#474747"/>
<path d="M369.5 256.7 L371.3 253.8 L373.1 256.7 Z" fill="#474747"/>
<path d="M339.9 266.5 L341.7 263.6 L343.5 266.5 Z" fill="#474747"/>
<path d="M341.3 270.6 L343.1 267.7 L344.9 270.6 Z" fill="#474747"/>
<path d="M344.7 268.3 L346.5 265.4 L348.3 268.3 Z" fill="#474747"/>
<path d="M352.6 263.8 L354.4 260.9 L356.2 263.8 Z" fill="#474747"/>
<path d="M358.4 258.2 L360.2 255.3 L362.0 258.2 Z" fill="#474747"/>
<path d="M343.5 267.9 L345.3 265.0 L347.1 267.9 Z" fill="#474747"/>
<path d="M363.0 253.1 L364.8 250.2 L366.6 253.1 Z" fill="#474747"/>
<path d="M360.1 261.0 L361.9 258.1 L363.7 261.0 Z" fill="#474747"/>
<path d="M357.6 254.6 L359.4 251.7 L361.2 254.6 Z" fill="#474747"/>
<path d="M367.3 250.9 L369.1 248.0 L370.9 250.9 Z" fill="#474747"/>
<path d="M358.8 256.2 L360.6 253.3 L362.4 256.2 Z" fill="#474747"/>
<path d="M339.7 266.2 L341.5 263.3 L343.3 266.2 Z" fill="#474747"/>
<path d="M359.5 257.2 L361.3 254.3 L363.1 257.2 Z" fill="#474747"/>
<path d="M341.0 268.2 L342.8 265.3 L344.6 268.2 Z" fill="#474747"/>
<path d="M359.7 261.2 L361.5 258.3 L363.3 261.2 Z" fill="#474747"/>
<path d="M367.0 257.8 L368.8 254.9 L370.6 257.8 Z" fill="#474747"/>
<path d="M342.4 262.7 L344.2 259.8 L346.0 262.7 Z" fill="#474747"/>
<path d="M351.5 260.9 L353.3 258.0 L355.1 260.9 Z" fill="#474747"/>
<path d="M366.6 254.0 L368.4 251.1 L370.2 254.0 Z" fill="#474747"/>
<path d="M340.7 269.8 L342.5 266.9 L344.3 269.8 Z" fill="#474747"/>
<path d="M362.1 255.0 L363.9 252.1 L365.7 255.0 Z" fill="#474747"/>
<path d="M343.6 262.7 L345.4 259.8 L347.2 262.7 Z" fill="#474747"/>
<path d="M375.2 253.0 L377.0 250.1 L378.8 253.0 Z" fill="#474747"/>
<path d="M368.0 254.4 L369.8 251.5 L371.6 254.4 Z" fill="#474747"/>
<path d="M354.1 258.3 L355.9 255.4 L357.7 258.3 Z" fill="#474747"/>
<path d="M373.0 251.1 L374.8 248.2 L376.6 251.1 Z" fill="#474747"/>
<path d="M341.5 263.7 L343.3 260.8 L345.1 263.7 Z" fill="#474747"/>
<path d="M349.1 267.3 L350.9 264.4 L352.7 267.3 Z" fill="#474747"/>
<path d="M356.3 255.2 L358.1 252.3 L359.9 255.2 Z" fill="#474747"/>
<path d="M369.3 254.7 L371.1 251.8 L372.9 254.7 Z" fill="#474747"/>
<path d="M346.6 266.8 L348.4 263.9 L350.2 266.8 Z" fill="#474747"/>
<path d="M358.1 260.1 L359.9 257.2 L361.7 260.1 Z" fill="#474747"/>
<path d="M349.4 264.2 L351.2 261.3 L353.0 264.2 Z" fill="#474747"/>
<path d="M359.3 253.9 L361.1 251.0 L362.9 253.9 Z" fill="#474747"/>
<path d="M353.1 263.2 L354.9 260.3 L356.7 263.2 Z" fill="#474747"/>
<path d="M348.0 262.6 L349.8 259.7 L351.6 262.6 Z" fill="#474747"/>
<path d="M367.5 252.9 L369.3 250.0 L371.1 252.9 Z" fill="#474747"/>
<path d="M353.4 257.8 L355.2 254.9 L357.0 257.8 Z" fill="#474747"/>
<path d="M355.6 256.4 L357.4 253.5 L359.2 256.4 Z" fill="#474747"/>
<path d="M364.6 257.6 L366.4 254.7 L368.2 257.6 Z" fill="#474747"/>
<path d="M344.7 266.3 L346.5 263.4 L348.3 266.3 Z" fill="#474747"/>
<path d="M349.8 262.6 L351.6 259.7 L353.4 262.6 Z" fill="#474747"/>
<path d="M349.1 265.4 L350.9 262.5 L352.7 265.4 Z" fill="#474747"/>
<circle cx="509" cy="208.5" r="1.45" fill="none" stroke="#8a8a8a" stroke-width="0.8"/>
<path d="M507.1 222.5 L509 219.5 L510.9 222.5 Z" fill="#444"/>
<text x="518.80" y="211.30" font-size="6.4" text-anchor="start" fill="#333" stroke="#333" stroke-width="0.12" textLength="20.7" lengthAdjust="spacingAndGlyphs" >Control</text>
<svg x="0" y="0" width="546.7" height="322" overflow="hidden">
<text x="519.20" y="224.00" font-size="6.5" text-anchor="start" fill="#333" stroke="#333" stroke-width="0.12" textLength="30.4" lengthAdjust="spacingAndGlyphs" >Treatment</text>
</svg>
</svg>
</body></html>
